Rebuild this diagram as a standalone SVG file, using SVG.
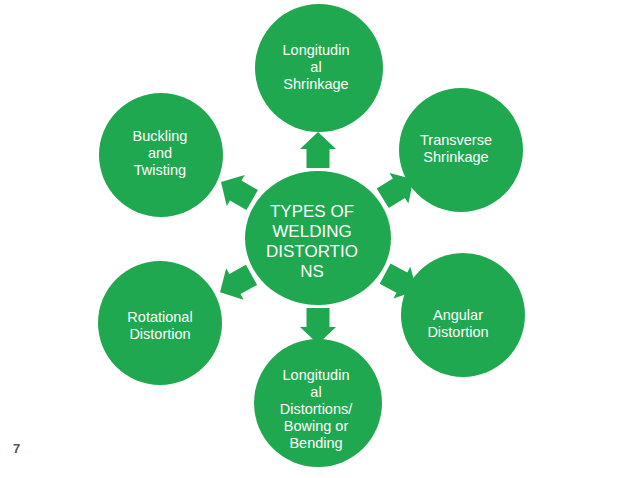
<svg xmlns="http://www.w3.org/2000/svg" width="638" height="478" viewBox="0 0 638 478">
<style>
.c{fill:#1fa84f}
.t{fill:#fff;font-family:"Liberation Sans",Arial,sans-serif;font-size:14.5px;text-anchor:middle}
.m{font-size:17px}
</style>
<defs><path id="ar" d="M0,-11.5H19V-18L36,0L19,18V11.5H0Z" class="c"/></defs>
<rect width="638" height="478" fill="#fff"/>
<g id="connectors">
<use href="#ar" transform="translate(318,238) rotate(-90) translate(70,0)"/>
<use href="#ar" transform="translate(318,238) rotate(-31.6) translate(76,0)"/>
<use href="#ar" transform="translate(318,238) rotate(28) translate(76,0)"/>
<use href="#ar" transform="translate(318,238) rotate(90) translate(70,0)"/>
<use href="#ar" transform="translate(318,238) rotate(151) translate(76,0)"/>
<use href="#ar" transform="translate(318,238) rotate(-150) translate(76,0)"/>
</g>
<g id="center"><ellipse class="c" cx="318" cy="238" rx="73" ry="67"/>
<text class="t m" x="312" y="217">TYPES OF</text><text class="t m" x="312" y="237">WELDING</text><text class="t m" x="312" y="257">DISTORTIO</text><text class="t m" x="312" y="277">NS</text></g>
<g id="n1"><circle class="c" cx="319" cy="68" r="64"/><text class="t" x="316" y="55">Longitudin</text><text class="t" x="316" y="72">al</text><text class="t" x="316" y="89">Shrinkage</text></g>
<g id="n2"><circle class="c" cx="461" cy="150" r="62"/><text class="t" x="456" y="145">Transverse</text><text class="t" x="456" y="162">Shrinkage</text></g>
<g id="n3"><circle class="c" cx="463" cy="315" r="62"/><text class="t" x="458" y="320">Angular</text><text class="t" x="458" y="337">Distortion</text></g>
<g id="n4"><circle class="c" cx="318" cy="403" r="64"/><text class="t" x="316" y="380">Longitudin</text><text class="t" x="316" y="397">al</text><text class="t" x="316" y="414">Distortions/</text><text class="t" x="316" y="431">Bowing or</text><text class="t" x="316" y="448">Bending</text></g>
<g id="n5"><circle class="c" cx="160" cy="323" r="62"/><text class="t" x="160" y="322">Rotational</text><text class="t" x="160" y="339">Distortion</text></g>
<g id="n6"><circle class="c" cx="161" cy="155" r="62"/><text class="t" x="160" y="141">Buckling</text><text class="t" x="160" y="158">and</text><text class="t" x="160" y="175">Twisting</text></g>
<text x="13" y="453" font-family="Liberation Sans,Arial,sans-serif" font-size="13" font-weight="bold" fill="#555">7</text>
</svg>
